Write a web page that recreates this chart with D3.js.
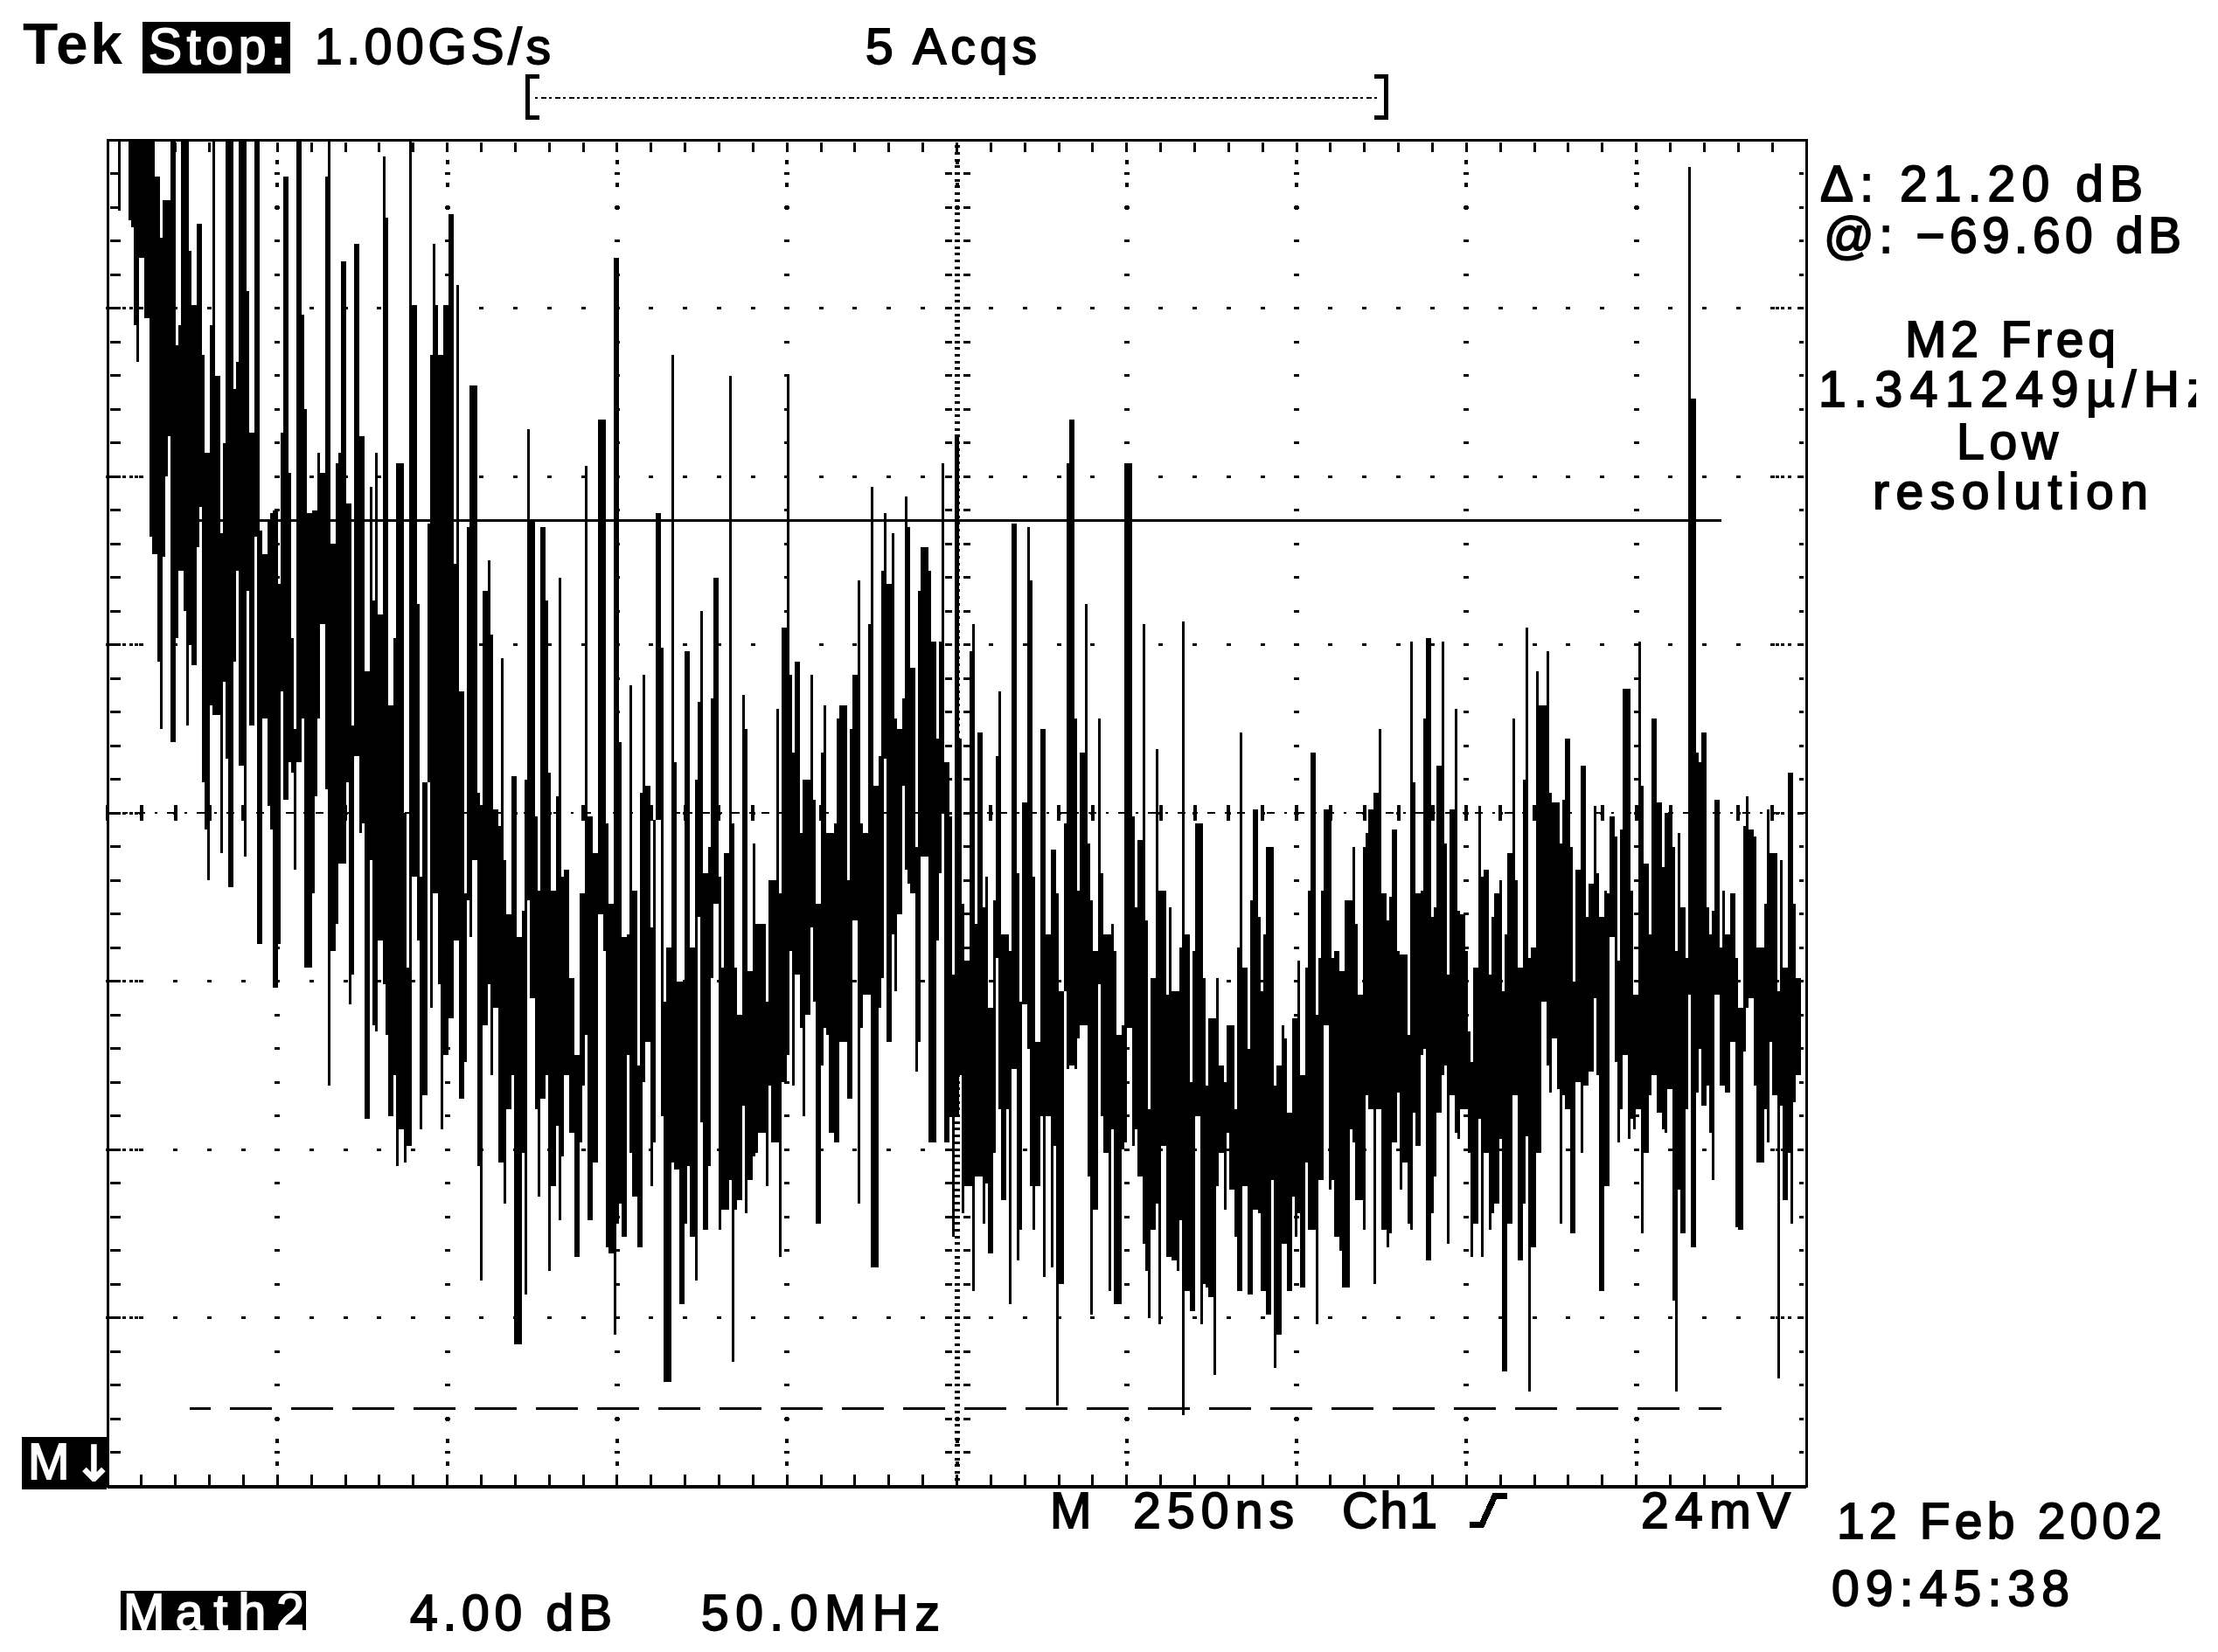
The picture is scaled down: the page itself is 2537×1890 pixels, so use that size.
<!DOCTYPE html>
<html>
<head>
<meta charset="utf-8">
<script src="https://cdn.jsdelivr.net/npm/d3@7"></script>
<style>
html, body { margin: 0; padding: 0; background: #ffffff; }
svg { display: block; }
text { font-family: "Liberation Sans", sans-serif; fill: #000000; white-space: pre; }
</style>
</head>
<body>
<div id="container"></div>
<script>
// trace, one column per screen sample: top and bottom of the drawn stroke, in display levels (50 per division, 0 = bottom)
var traceHi = [
    400,400,400,400,400,400,400,400,400,400,400,400,400,400,400,400,400,400,389,389,371,382,382,382,400,400,339,345,400,400,400,367,351,351,375,375,336,307,307,345,400,330,330,283,310,400,400,400,326,334,400,400,400,355,313,313,400,400,284,277,277,287,289,290,290,268,313,389,389,301,252,225,400,400,348,320,289,289,290,290,307,301,301,389,400,280,280,304,307,364,364,292,292,226,369,369,312,312,242,242,297,263,307,259,259,395,377,232,232,252,304,304,304,200,154,400,351,351,262,181,209,209,286,336,369,351,336,336,351,351,
    378,378,274,357,236,236,176,285,327,327,327,206,200,266,266,275,253,201,201,196,246,186,170,170,211,211,163,163,171,210,314,287,287,199,177,285,285,263,212,177,177,205,270,181,183,183,151,151,128,128,176,176,303,199,199,188,188,317,317,317,197,173,173,365,365,221,163,163,164,238,177,177,125,206,241,208,208,166,198,289,289,249,144,160,160,336,215,150,150,150,248,248,160,160,210,233,260,182,182,190,234,270,270,181,154,188,188,330,197,154,140,140,235,225,153,153,191,167,167,167,167,144,180,180,180,231,176,255,255,330,
    241,218,245,245,194,210,210,210,241,204,173,173,218,232,194,194,194,197,228,232,232,232,180,225,241,241,269,197,194,194,256,297,208,208,217,272,289,268,268,283,228,225,225,234,294,285,243,243,190,266,279,279,279,272,251,251,222,251,304,215,215,199,152,312,312,222,173,156,156,248,256,167,224,224,172,181,142,142,174,217,236,164,164,164,159,286,286,182,144,203,203,285,269,181,132,132,225,225,164,164,189,189,176,147,147,197,304,317,317,228,177,218,218,262,191,174,159,159,228,182,164,164,164,167,159,134,134,137,304,
    304,304,199,172,192,192,256,168,112,151,151,219,177,177,177,146,172,147,147,147,160,257,164,164,120,159,197,197,197,151,119,139,139,139,151,125,125,120,137,137,137,112,160,224,154,154,130,174,201,201,169,147,164,190,190,190,119,125,125,137,133,111,111,139,139,156,122,122,154,177,218,218,140,157,177,201,201,202,157,159,159,153,153,174,174,174,190,167,146,146,190,194,201,201,206,206,225,176,176,168,175,195,195,159,158,158,158,134,251,209,176,176,177,228,252,252,169,172,214,214,251,191,152,201,201,231,171,170,170,159,
    135,126,154,154,202,181,183,183,152,169,176,176,180,147,164,188,188,228,180,154,154,210,255,157,160,160,242,232,232,232,248,206,203,203,203,191,204,222,222,190,150,183,183,214,214,169,179,179,202,182,169,169,177,176,199,199,193,156,195,237,237,237,177,146,146,251,208,185,185,164,228,228,203,203,184,200,200,200,190,159,194,172,172,157,392,323,323,218,215,224,224,172,164,171,204,204,160,177,164,164,176,176,157,142,142,196,205,195,195,193,160,160,160,173,201,188,188,188,147,186,154,154,212,212,173,151,151
]
var traceLo = [
    400,400,400,400,379,400,400,400,376,374,345,334,365,365,347,347,282,277,277,245,225,276,300,312,221,221,252,272,272,260,226,250,244,244,279,291,209,195,180,232,229,229,229,188,239,216,178,178,245,272,214,214,187,266,226,226,282,161,161,228,228,202,195,148,148,161,236,204,204,215,212,183,215,215,228,154,154,154,176,205,228,256,256,207,119,159,159,167,185,185,185,209,143,152,217,217,194,197,109,109,186,137,135,162,162,149,134,110,110,122,95,106,106,96,101,101,181,181,162,106,116,116,209,142,176,176,149,106,128,128,
    139,139,162,162,115,115,126,174,163,186,186,95,61,137,137,149,122,142,142,96,96,84,112,112,122,42,42,42,99,57,174,145,145,112,86,115,115,122,64,89,89,107,79,98,122,122,105,105,68,68,102,119,134,79,79,96,96,170,170,159,71,69,69,45,78,84,74,74,128,99,86,86,71,71,120,132,132,89,102,198,198,110,31,31,31,96,94,94,54,54,78,95,74,74,61,169,108,76,76,95,151,173,173,76,82,82,82,91,37,82,85,85,113,81,91,91,98,99,105,105,105,89,119,102,102,102,68,120,120,128,
    159,119,152,152,136,110,140,140,166,144,78,78,125,136,134,105,105,102,102,132,132,132,115,115,168,168,84,136,146,146,146,65,65,65,142,151,216,132,132,164,147,170,170,208,183,179,176,176,123,132,187,187,187,102,102,102,162,182,200,102,102,110,74,110,110,122,81,89,89,89,58,92,92,92,78,90,69,69,99,157,112,85,85,112,54,124,124,67,76,143,143,130,89,76,89,89,110,62,110,110,65,101,24,60,60,147,124,125,125,124,133,137,137,137,92,51,82,82,149,110,99,99,58,106,54,54,54,100,102,
    136,136,101,106,92,92,72,64,50,76,76,84,48,101,101,68,68,67,67,64,79,21,58,58,52,52,110,110,48,60,59,56,56,33,89,99,99,82,105,88,88,74,58,58,89,89,57,57,82,82,81,58,58,51,51,91,35,45,45,72,72,58,58,86,74,81,59,59,96,76,76,76,48,91,91,137,137,88,91,74,74,70,59,59,59,106,102,85,85,85,76,116,112,112,60,112,112,76,76,71,75,102,102,117,88,96,96,78,76,111,101,101,128,130,67,67,81,92,111,111,122,125,72,116,116,105,103,112,112,112,
    99,68,78,78,109,68,99,99,76,81,84,84,103,34,34,78,78,116,116,67,67,84,104,28,71,71,99,99,144,144,125,117,133,133,118,78,116,112,112,75,75,120,120,99,119,119,123,123,145,122,58,58,89,89,163,163,126,102,112,128,128,103,109,106,112,112,75,99,99,116,122,122,111,111,106,105,118,118,55,28,88,75,75,112,146,71,71,117,130,113,113,119,105,91,146,146,119,119,117,117,132,132,77,76,76,129,142,145,145,119,96,96,96,112,102,132,116,116,32,113,85,85,99,78,114,122,122
]
var cursorLevels = [287, 23]

var headerLabels = ['Tek', 'Stop:', '1.00GS/s', '5 Acqs']
var readoutLabels = ['\u0394: 21.20 dB', '@: \u221269.60 dB', 'M2 Freq', '1.341249\u00b5/Hz', 'Low', 'resolution']
var footerLabels = ['M', '250ns', 'Ch1', '24mV']
var channelLabels = ['Math2', '4.00 dB', '50.0MHz']
var dateLabels = ['12 Feb 2002', '09:45:38']

var width = 2537
var height = 1890
var plotLeft = 123
var plotRight = 2066
var plotTop = 160
var plotBottom = 1700

var xDiv = d3.scaleLinear().domain([0, 10]).range([plotLeft, plotRight])
var yDiv = d3.scaleLinear().domain([0, 8]).range([plotBottom, plotTop])
var xColumn = d3.scaleLinear().domain([0, 648]).range([plotLeft, plotRight])
var yLevel = d3.scaleLinear().domain([0, 400]).range([plotBottom, plotTop])

var minorX = d3.range(0, 50).map(function(d){ return d / 5 })
var minorY = d3.range(0, 40).map(function(d){ return d / 5 })
var finestY = d3.range(0, 200).map(function(d){ return d / 25 })

var svg = d3.select('#container').append('svg')
    .attr('width', width)
    .attr('height', height)
    .attr('shape-rendering', 'crispEdges')

svg.append('rect')
    .attr('width', width)
    .attr('height', height)
    .attr('fill', '#ffffff')

svg.append('clipPath')
    .attr('id', 'readoutClip')
    .append('rect')
    .attr('x', 2060)
    .attr('y', 150)
    .attr('width', 452)
    .attr('height', 500)

function drawMarks(layer, data, getX, getY, w, h){
    layer.selectAll(null)
        .data(data)
        .enter()
        .append('rect')
        .attr('x', function(d){ return getX(d) - w / 2 })
        .attr('y', function(d){ return getY(d) - h / 2 })
        .attr('width', w)
        .attr('height', h)
        .attr('fill', '#000000')
}

function drawGraticule(){
    var grid = svg.append('g')

    // frame ticks
    drawMarks(grid, minorY, function(){ return plotLeft + 9 }, yDiv, 12, 3)
    drawMarks(grid, minorY, function(){ return plotRight - 6 }, yDiv, 5, 3)
    drawMarks(grid, minorX, xDiv, function(){ return plotTop + 8 }, 3, 11)
    drawMarks(grid, minorX, xDiv, function(){ return plotBottom - 7 }, 3, 12)

    // dots on each division line
    for(var k = 1; k < 10; k++){
        drawMarks(grid, minorY, function(){ return xDiv(k) }, yDiv, 6, 3)
        drawMarks(grid, [0.13, 0.27, 0.4, 7.6, 7.73, 7.87], function(){ return xDiv(k) }, yDiv, 4, 5)
    }
    for(var j = 1; j < 8; j++){
        drawMarks(grid, minorX, xDiv, function(){ return yDiv(j) }, 5, 3)
        drawMarks(grid, [0.04, 0.1, 0.14, 0.17, 9.83, 9.86, 9.9, 9.96], xDiv, function(){ return yDiv(j) }, 4, 3)
    }

    // centre lines
    svg.append('line')
        .attr('x1', plotLeft)
        .attr('x2', plotRight)
        .attr('y1', yDiv(4))
        .attr('y2', yDiv(4))
        .attr('stroke', '#000000')
        .attr('stroke-width', 2)
        .attr('stroke-dasharray', '9 11 3 11')
    drawMarks(grid, minorX, xDiv, function(){ return yDiv(4) }, 4, 18)
    drawMarks(grid, finestY, function(){ return xDiv(5) }, yDiv, 6, 3)
    drawMarks(grid, minorY, function(){ return xDiv(5) - 10 }, yDiv, 8, 3)
    drawMarks(grid, minorY, function(){ return xDiv(5) + 11 }, yDiv, 8, 3)
}

function drawCursors(){
    var solid = cursorLevels[0]
    var dashed = cursorLevels[1]

    svg.append('line')
        .attr('x1', 217)
        .attr('x2', 1969)
        .attr('y1', yLevel(solid))
        .attr('y2', yLevel(solid))
        .attr('stroke', '#000000')
        .attr('stroke-width', 3)

    svg.append('line')
        .attr('x1', 217)
        .attr('x2', 1969)
        .attr('y1', yLevel(dashed))
        .attr('y2', yLevel(dashed))
        .attr('stroke', '#000000')
        .attr('stroke-width', 3)
        .attr('stroke-dasharray', '48 22')
        .attr('stroke-dashoffset', 24)
}

function drawTrace(){
    svg.append('g')
        .selectAll('rect')
        .data(traceHi)
        .enter()
        .append('rect')
        .attr('x', function(d, i){ return xColumn(i) })
        .attr('y', function(d){ return yLevel(d) })
        .attr('width', function(d, i){ return xColumn(i + 1) - xColumn(i) })
        .attr('height', function(d, i){ return yLevel(traceLo[i]) - yLevel(d) })
        .attr('fill', '#000000')
}

function drawFrame(){
    svg.append('rect')
        .attr('x', plotLeft)
        .attr('y', plotTop)
        .attr('width', plotRight - plotLeft)
        .attr('height', plotBottom - plotTop)
        .attr('fill', 'none')
        .attr('stroke', '#000000')
        .attr('stroke-width', 3)

    svg.append('line')
        .attr('x1', plotLeft)
        .attr('x2', plotRight)
        .attr('y1', plotBottom + 1)
        .attr('y2', plotBottom + 1)
        .attr('stroke', '#000000')
        .attr('stroke-width', 3)
}

function addText(label, x0, x1, baseline, size, color, weight){
    return svg.append('text')
        .attr('x', x0)
        .attr('y', baseline)
        .attr('font-size', size)
        .attr('textLength', x1 - x0)
        .attr('font-weight', weight || 'normal')
        .attr('stroke', color || '#000000')
        .attr('stroke-width', weight ? 0 : 1.8)
        .style('fill', color || '#000000')
        .text(label)
}

function addBox(x0, x1, y0, y1){
    svg.append('rect')
        .attr('x', x0)
        .attr('y', y0)
        .attr('width', x1 - x0)
        .attr('height', y1 - y0)
        .attr('fill', '#000000')
}

function drawLabels(){
    addText(headerLabels[0], 26, 140, 73, 66, '#000000', 'bold')
    addBox(163, 332, 25, 84)
    addText(headerLabels[1], 170, 326, 73, 57, '#ffffff')
    addText(headerLabels[2], 360, 630, 73, 57)
    addText(headerLabels[3], 990, 1186, 73, 57)

    // record bracket
    addBox(601, 606, 85, 137)
    addBox(601, 617, 85, 90)
    addBox(601, 617, 132, 137)
    addBox(1583, 1588, 85, 137)
    addBox(1572, 1588, 85, 90)
    addBox(1572, 1588, 132, 137)
    svg.append('line')
        .attr('x1', 612)
        .attr('x2', 1575)
        .attr('y1', 112)
        .attr('y2', 112)
        .attr('stroke', '#000000')
        .attr('stroke-width', 2)
        .attr('stroke-dasharray', '3 4 6 3')

    addText(readoutLabels[0], 2082, 2451, 230, 57)
    addText(readoutLabels[1], 2086, 2495, 289, 57)
    addText(readoutLabels[2], 2179, 2420, 408, 57)
    addText(readoutLabels[3], 2080, 2530, 465, 57).attr('clip-path', 'url(#readoutClip)')
    addText(readoutLabels[4], 2238, 2354, 525, 57)
    addText(readoutLabels[5], 2142, 2457, 582, 57)

    addBox(25, 122, 1644, 1704)
    addText('M', 32, 78, 1692, 57, '#ffffff')
    addText('\u2193', 84, 120, 1694, 56, '#ffffff').style('font-family', '"DejaVu Sans"')

    addText(footerLabels[0], 1201, 1246, 1748, 57)
    addText(footerLabels[1], 1296, 1480, 1748, 57)
    addText(footerLabels[2], 1535, 1644, 1748, 57)
    svg.append('path')
        .attr('d', 'M1681,1744L1695,1744L1710,1711L1724,1711')
        .attr('fill', 'none')
        .attr('stroke', '#000000')
        .attr('stroke-width', 7)
    addText(footerLabels[3], 1877, 2048, 1748, 57)

    addText(dateLabels[0], 2101, 2473, 1760, 57)
    addText(dateLabels[1], 2095, 2367, 1837, 57)

    addBox(138, 350, 1820, 1865)
    addText(channelLabels[0], 141, 348, 1864, 57, '#ffffff')
    addText(channelLabels[1], 469, 700, 1865, 57)
    addText(channelLabels[2], 802, 1075, 1865, 57)
}

drawGraticule()
drawCursors()
drawTrace()
drawFrame()
drawLabels()
</script>
</body>
</html>
